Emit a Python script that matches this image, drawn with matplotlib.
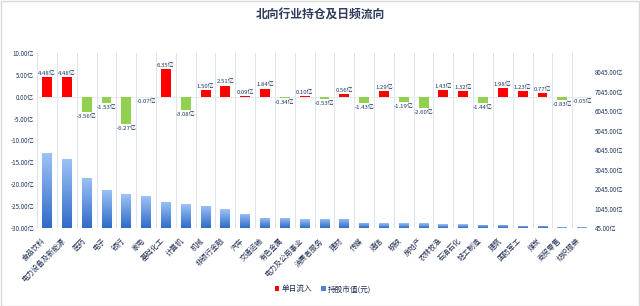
import matplotlib.pyplot as plt
import numpy as np
from matplotlib.patches import Rectangle
from matplotlib.colors import LinearSegmentedColormap
from matplotlib.transforms import blended_transform_factory

plt.rcParams['font.family'] = ['Noto Sans CJK SC', 'DejaVu Sans']

industries = ['食品饮料', '电力设备及新能源', '医药', '电子', '银行', '家电', '基础化工',
              '计算机', '机械', '非银行金融', '汽车', '交通运输', '有色金属', '电力及公用事业',
              '消费者服务', '建材', '传媒', '通信', '钢铁', '房地产', '农林牧渔', '石油石化',
              '轻工制造', '建筑', '国防军工', '煤炭', '商贸零售', '纺织服装']
daily_flow = [4.48, 4.48, -3.56, -1.53, -6.27, -0.07, 6.35, -3.08, 1.50, 2.51, 0.09, 1.84,
              -0.34, 0.10, -0.53, 0.56, -1.43, 1.29, -1.19, -2.60, 1.43, 1.32, -1.44, 1.98,
              1.23, 0.77, -0.83, -0.05]
holdings = [3875, 3570, 2625, 2010, 1790, 1690, 1395, 1275, 1190, 1005, 765, 560, 560, 505,
            520, 520, 320, 300, 290, 290, 235, 235, 200, 200, 160, 170, 90, 70]

left_ticks = [10, 5, 0, -5, -10, -15, -20, -25, -30]
right_ticks = [45, 1045, 2045, 3045, 4045, 5045, 6045, 7045, 8045]

txt = '#1F3864'
x = np.arange(len(industries))

fig = plt.figure(figsize=(6.4, 3.06), dpi=100)
fig.patches.append(Rectangle((0.001, 0.001), 0.998, 0.997, transform=fig.transFigure,
                             fill=False, edgecolor='#D9D9D9', lw=1))
ax = fig.add_axes([0.058, 0.255, 0.867, 0.572])
ax2 = ax.twinx()

# holdings bars with vertical gradient
bars = ax2.bar(x, holdings, width=0.5, bottom=0, color='none', zorder=2)
grad = np.linspace(0, 1, 256).reshape(-1, 1)
cmap = LinearSegmentedColormap.from_list('bl', ['#2F6BC6', '#9DC3F7'])
for b in bars:
    x0 = b.get_x()
    im = ax2.imshow(grad, cmap=cmap, aspect='auto', origin='lower',
                    extent=[x0, x0 + b.get_width(), 45, b.get_height()], zorder=2)
    im.set_clip_path(b)
ax2.set_ylim(45, 9045)
ax2.set_xlim(-0.5, len(x) - 0.5)
ax2.set_yticks(right_ticks)
ax2.set_yticklabels([f'{v:.2f}亿' for v in right_ticks])

colors = ['#FF0000' if v >= 0 else '#92D050' for v in daily_flow]
ax.bar(x, daily_flow, width=0.5, color=colors, zorder=3)
for xi, v in zip(x, daily_flow):
    if v >= 0:
        ax.text(xi, v + 0.3, f'{v:.2f}亿', ha='center', va='bottom', fontsize=4.3, color=txt)
    else:
        ax.text(xi, v - 0.3, f'{v:.2f}亿', ha='center', va='top', fontsize=4.3, color=txt)
ax.set_ylim(-30, 10)
ax.set_xlim(-0.5, len(x) - 0.5)
ax.set_yticks(left_ticks)
ax.set_yticklabels([f'{v:.2f}亿' for v in left_ticks])
ax.set_xticks(x)
ax.set_xticklabels([])
for xb in np.arange(-0.5, len(x), 1):
    ax.axvline(xb, color='#DCE3EF', lw=0.7, zorder=0)
ax.axhline(0, color='#E6EAF2', lw=0.7, zorder=0)

for a in (ax, ax2):
    for s in a.spines.values():
        s.set_visible(False)
    a.tick_params(length=0, labelsize=4.5, labelcolor=txt, pad=2)

# rotated category labels
trans = blended_transform_factory(ax.transData, ax.transAxes)
for xi, name in zip(x, industries):
    ax.text(xi - 0.13, -0.067, name, transform=trans, rotation=45, ha='right',
            va='center', rotation_mode='anchor', fontsize=5.2, color='#1F2D50')

fig.text(0.5, 0.95, '北向行业持仓及日频流向', ha='center', va='center',
         fontsize=8.5, fontweight='bold', color='#2F3B5C')

ax.bar([0], [0], color='#FF0000', label='单日流入')
ax.bar([0], [0], color='#4F81D8', label='持股市值(元)')
ax.legend(loc='center', bbox_to_anchor=(0.505, 0.055), bbox_transform=fig.transFigure,
          ncol=2, frameon=False, fontsize=5.5, handlelength=0.6, handleheight=0.6,
          handletextpad=0.3, columnspacing=1.2, labelcolor='#1F2D50')

fig.savefig('out.png', dpi=100)
